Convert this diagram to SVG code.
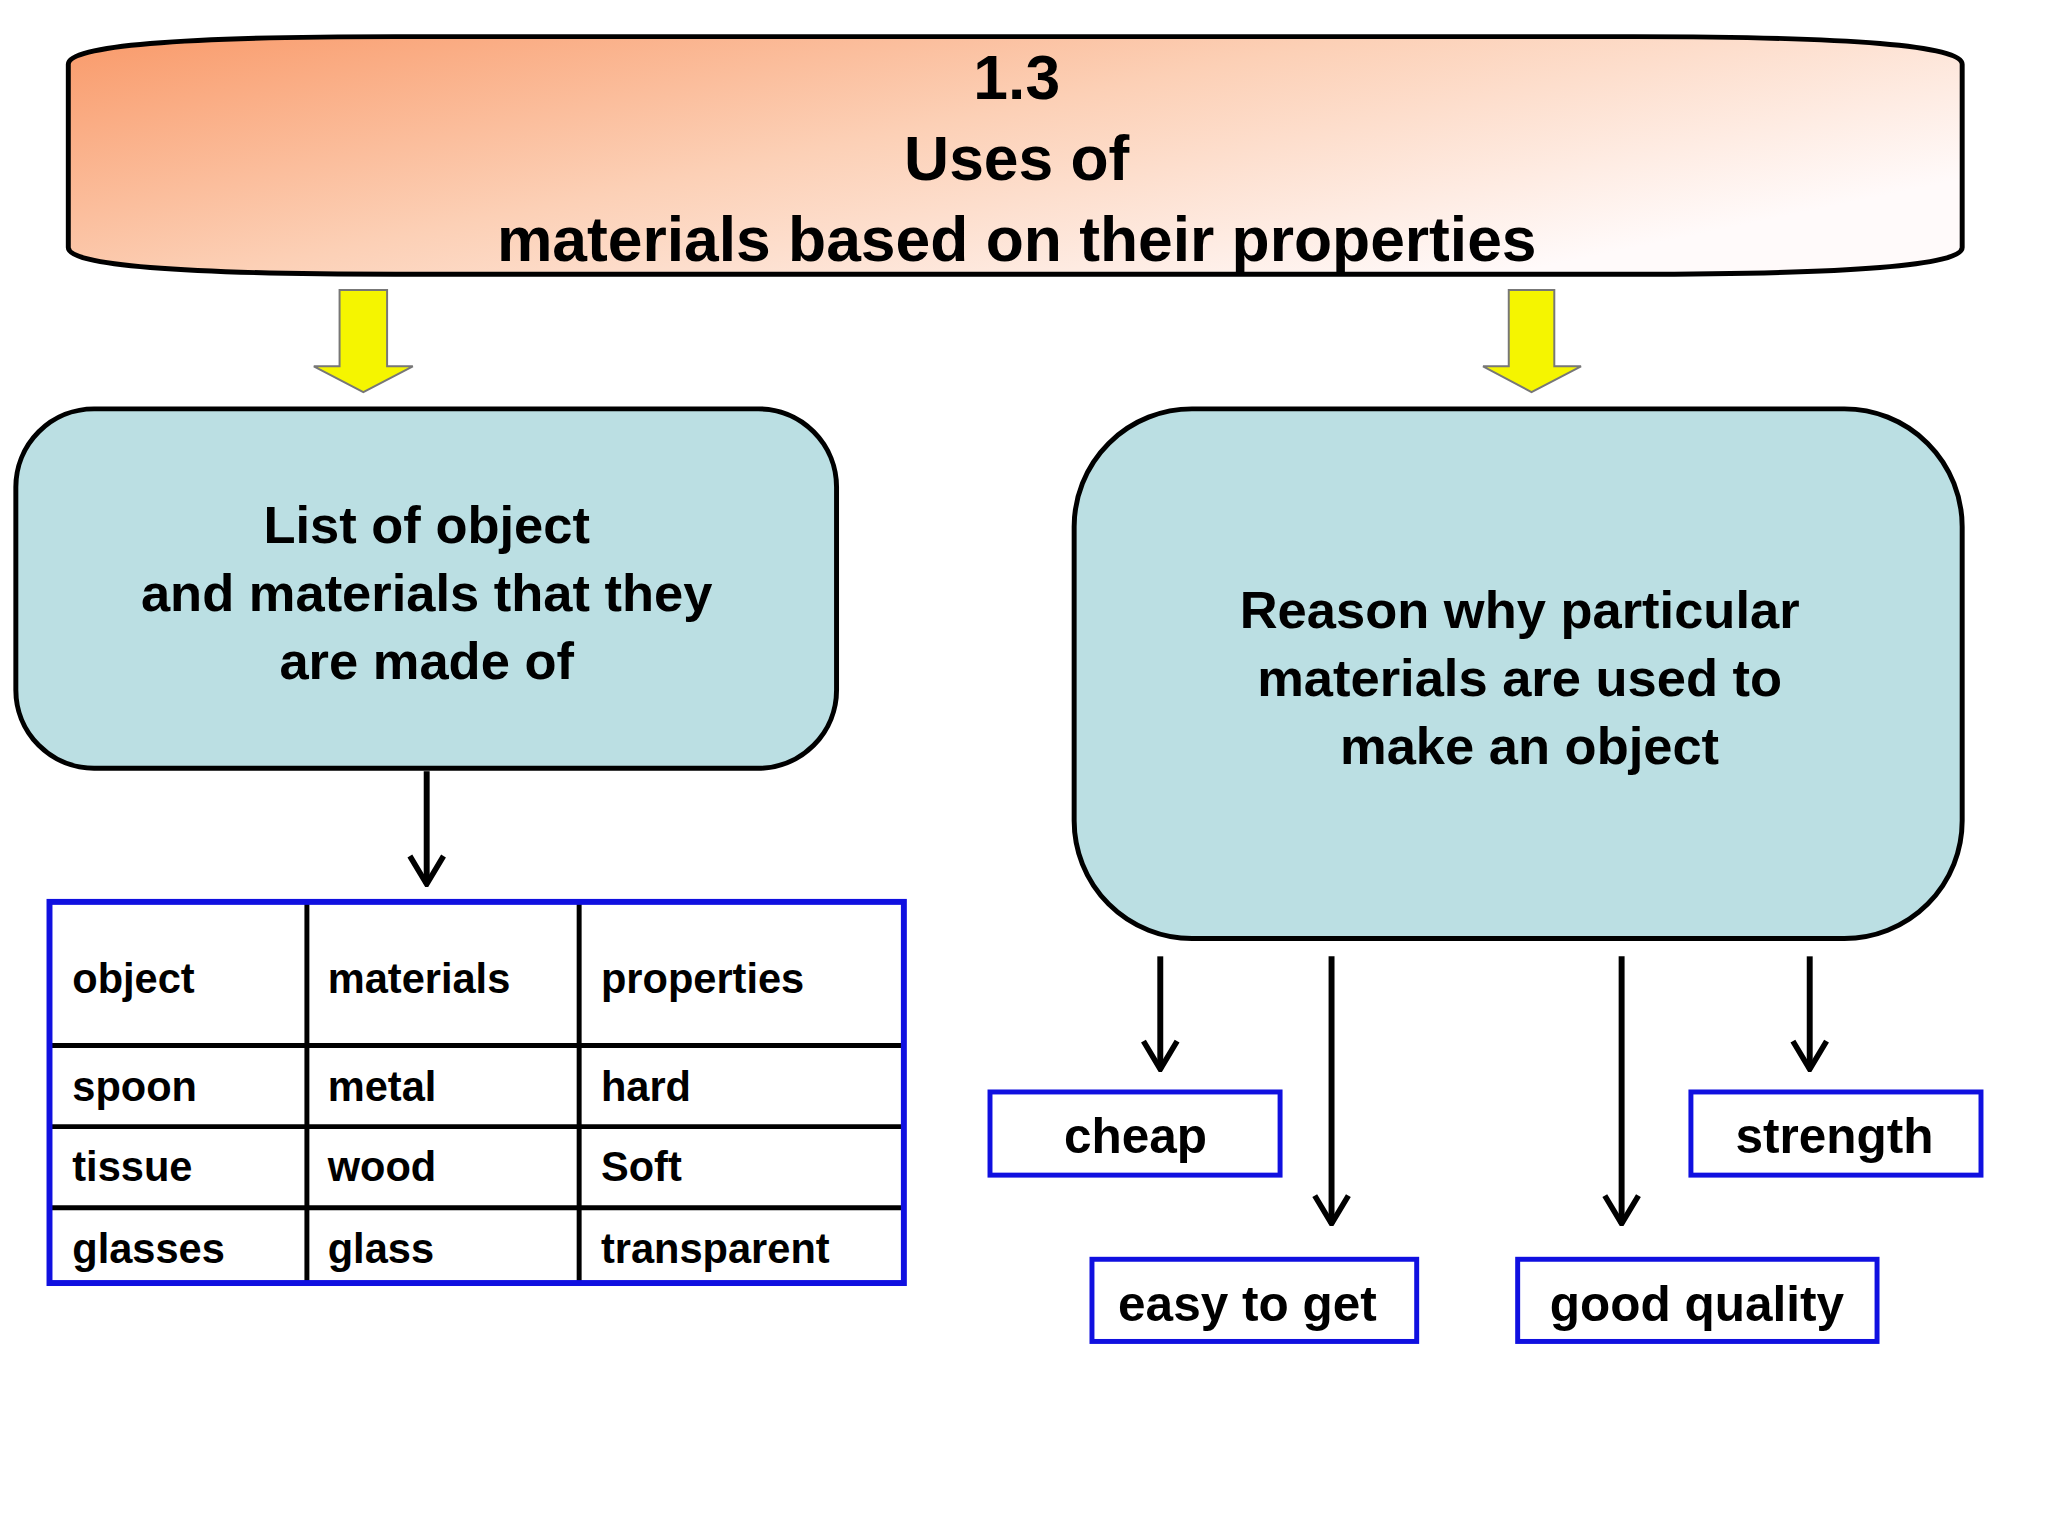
<svg xmlns="http://www.w3.org/2000/svg" width="2048" height="1536" viewBox="0 0 2048 1536">
<defs>
<linearGradient id="g" x1="0" y1="0" x2="1" y2="0.6">
<stop offset="0" stop-color="#f99a6a"/><stop offset="0.5" stop-color="#fcd0b6"/><stop offset="1" stop-color="#fffafa"/>
</linearGradient>
<marker id="ah2" viewBox="-14 -2 28 24" refX="0" refY="20" markerWidth="40" markerHeight="34" markerUnits="userSpaceOnUse" orient="0">
<path d="M-12 0 L0 20 L12 0" fill="none" stroke="#000" stroke-width="4"/>
</marker>
<style>
text{font-family:"Liberation Sans",Arial,sans-serif;font-weight:bold;fill:#000}
.t{font-size:63px;text-anchor:middle}
.b{font-size:53px;text-anchor:middle}
.c{font-size:42px}
.l{font-size:50px;text-anchor:middle}
.box{fill:#bbdfe3;stroke:#000;stroke-width:5}
.bl{fill:#fff;stroke:#1010e0;stroke-width:5}
.ln{stroke:#000;stroke-width:6;fill:none}
.ya{fill:#f5f500;stroke:#777;stroke-width:2}
</style>
</defs>
<rect width="2048" height="1536" fill="#fff"/>
<g transform="scale(0.99)">
<g id="title">
<path d="M69 65 Q69 37 400 37 L1650 37 Q1982 37 1982 65 L1982 250 Q1982 277 1650 277 L400 277 Q69 277 69 250 Z" fill="url(#g)" stroke="#000" stroke-width="5"/>
<text class="t" x="1027" y="100">1.3</text>
<text class="t" x="1027" y="182">Uses of</text>
<text class="t" x="1027" y="264">materials based on their properties</text>
</g>
<g id="list">
<rect class="box" x="16" y="413" width="829" height="363" rx="79"/>
<text class="b" x="431" y="548">List of object</text>
<text class="b" x="431" y="617">and materials that they</text>
<text class="b" x="431" y="686">are made of</text>
</g>
<g id="reason">
<rect class="box" x="1085" y="413" width="897" height="535" rx="119"/>
<text class="b" x="1535" y="634">Reason why particular</text>
<text class="b" x="1535" y="703">materials are used to</text>
<text class="b" x="1545" y="772">make an object</text>
</g>
<g id="table">
<rect x="50" y="911" width="863" height="385" fill="#fff"/>
<g stroke="#000" stroke-width="5">
<line x1="50" y1="1056" x2="913" y2="1056"/><line x1="50" y1="1138" x2="913" y2="1138"/><line x1="50" y1="1220" x2="913" y2="1220"/>
<line x1="310" y1="911" x2="310" y2="1296"/><line x1="585" y1="911" x2="585" y2="1296"/>
</g>
<rect x="50" y="911" width="863" height="385" fill="none" stroke="#1010e0" stroke-width="6"/>
<text class="c" x="73" y="1003">object</text><text class="c" x="331" y="1003">materials</text><text class="c" x="607" y="1003">properties</text>
<text class="c" x="73" y="1112">spoon</text><text class="c" x="331" y="1112">metal</text><text class="c" x="607" y="1112">hard</text>
<text class="c" x="73" y="1193">tissue</text><text class="c" x="331" y="1193">wood</text><text class="c" x="607" y="1193">Soft</text>
<text class="c" x="73" y="1276">glasses</text><text class="c" x="331" y="1276">glass</text><text class="c" x="607" y="1276">transparent</text>
</g>
<g id="cheap"><rect class="bl" x="1000" y="1103" width="293" height="84"/><text class="l" x="1147" y="1165">cheap</text></g>
<g id="strength"><rect class="bl" x="1708" y="1103" width="293" height="84"/><text class="l" x="1853" y="1165">strength</text></g>
<g id="easy"><rect class="bl" x="1103" y="1272" width="328" height="83"/><text class="l" x="1260" y="1334">easy to get</text></g>
<g id="good"><rect class="bl" x="1533" y="1272" width="363" height="83"/><text class="l" x="1714" y="1334">good quality</text></g>
<g id="connectors">
<path class="ya" d="M343 293 H391 V370 H417 L367 396 L317 370 H343 Z"/>
<path class="ya" d="M1524 293 H1570 V370 H1597 L1547 396 L1498 370 H1524 Z"/>
<line class="ln" x1="431" y1="779" x2="431" y2="893" marker-end="url(#ah2)"/>
<line class="ln" x1="1172" y1="966" x2="1172" y2="1080" marker-end="url(#ah2)"/>
<line class="ln" x1="1345" y1="966" x2="1345" y2="1236" marker-end="url(#ah2)"/>
<line class="ln" x1="1638" y1="966" x2="1638" y2="1236" marker-end="url(#ah2)"/>
<line class="ln" x1="1828" y1="966" x2="1828" y2="1080" marker-end="url(#ah2)"/>
</g>
</g>
</svg>
